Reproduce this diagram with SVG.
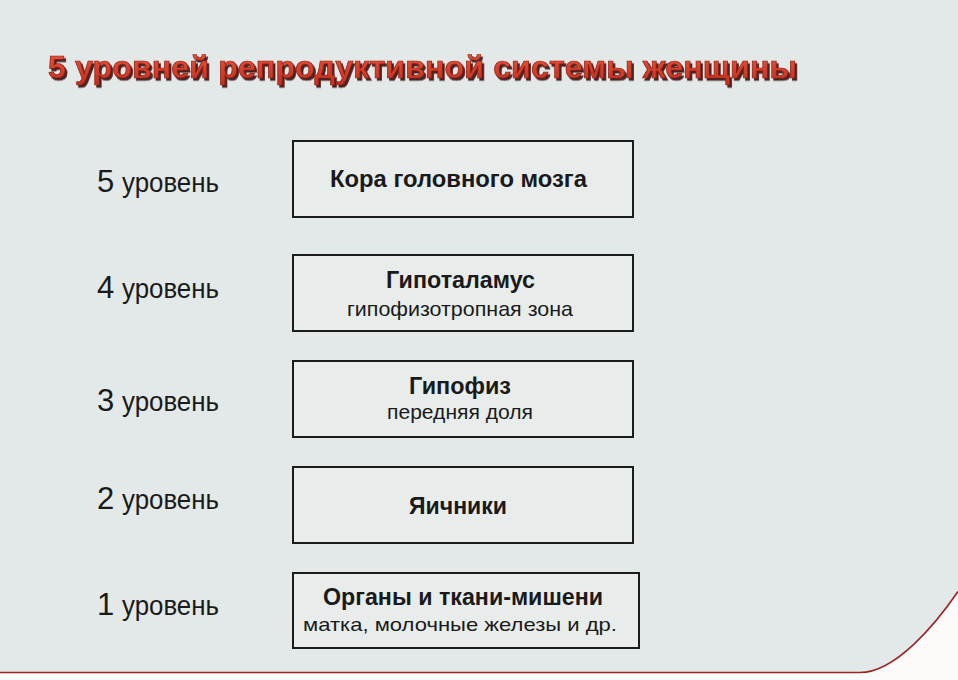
<svg xmlns="http://www.w3.org/2000/svg" width="958" height="680" viewBox="0 0 958 680">
<defs>
<filter id="shadow" x="-5%" y="-30%" width="110%" height="160%">
<feDropShadow dx="2" dy="2.5" stdDeviation="0.7" flood-color="#3a0808" flood-opacity="0.9"/>
</filter>
<linearGradient id="titleGrad" x1="0" y1="0" x2="0" y2="1">
<stop offset="0" stop-color="#ea573d"/>
<stop offset="1" stop-color="#c42e1e"/>
</linearGradient>
</defs>
<style>
.box{fill:#e8edec;stroke:#1c1c1c;stroke-width:2}
.main{font-family:"Liberation Sans",Arial,sans-serif;font-weight:bold;font-size:24px;fill:#1a1a1a}
.sub{font-family:"Liberation Sans",Arial,sans-serif;font-size:21px;fill:#1a1a1a}
.num{font-family:"Liberation Sans",Arial,sans-serif;font-size:31px;fill:#1a1a1a}
.lvl{font-family:"Liberation Sans",Arial,sans-serif;font-size:27px;fill:#1a1a1a}
.title{font-family:"Liberation Sans",Arial,sans-serif;font-weight:bold;font-size:31px;fill:url(#titleGrad);stroke:#8a1c10;stroke-width:0.7}
</style>
<rect x="0" y="0" width="958" height="680" fill="#e3e9e8"/>
<path d="M0,673 H860 C895,673 935,625 958,592 V680 H0 Z" fill="#fdfafa"/>
<path d="M0,672.5 H860 C895,672.5 935,625 958,591.5" fill="none" stroke="#9a2424" stroke-width="1.6"/>
<text class="title" x="48" y="78" textLength="749" lengthAdjust="spacingAndGlyphs" filter="url(#shadow)">5 уровней репродуктивной системы женщины</text>
<g id="labels">
<text x="97" y="192"><tspan class="num">5</tspan></text>
<text class="lvl" x="122" y="192" textLength="97" lengthAdjust="spacingAndGlyphs">уровень</text>
<text x="97" y="298"><tspan class="num">4</tspan></text>
<text class="lvl" x="122" y="298" textLength="97" lengthAdjust="spacingAndGlyphs">уровень</text>
<text x="97" y="411"><tspan class="num">3</tspan></text>
<text class="lvl" x="122" y="411" textLength="97" lengthAdjust="spacingAndGlyphs">уровень</text>
<text x="97" y="509"><tspan class="num">2</tspan></text>
<text class="lvl" x="122" y="509" textLength="97" lengthAdjust="spacingAndGlyphs">уровень</text>
<text x="97" y="615"><tspan class="num">1</tspan></text>
<text class="lvl" x="122" y="615" textLength="97" lengthAdjust="spacingAndGlyphs">уровень</text>
</g>
<g id="connectors"></g>
<g id="node-cortex">
<rect class="box" x="293" y="141" width="340" height="76"/>
<text class="main" x="330" y="187" textLength="257" lengthAdjust="spacingAndGlyphs">Кора головного мозга</text>
</g>
<g id="node-hypothalamus">
<rect class="box" x="293" y="255" width="340" height="76"/>
<text class="main" x="386" y="288" textLength="149" lengthAdjust="spacingAndGlyphs">Гипоталамус</text>
<text class="sub" x="347" y="316" textLength="226" lengthAdjust="spacingAndGlyphs">гипофизотропная зона</text>
</g>
<g id="node-pituitary">
<rect class="box" x="293" y="361" width="340" height="76"/>
<text class="main" x="409" y="394" textLength="102" lengthAdjust="spacingAndGlyphs">Гипофиз</text>
<text class="sub" x="387" y="419" textLength="146" lengthAdjust="spacingAndGlyphs">передняя доля</text>
</g>
<g id="node-ovaries">
<rect class="box" x="293" y="467" width="340" height="76"/>
<text class="main" x="409" y="514" textLength="98" lengthAdjust="spacingAndGlyphs">Яичники</text>
</g>
<g id="node-targets">
<rect class="box" x="293" y="573" width="346" height="75"/>
<text class="main" x="323" y="605" textLength="280" lengthAdjust="spacingAndGlyphs">Органы и ткани-мишени</text>
<text class="sub" x="303" y="631" textLength="314" lengthAdjust="spacingAndGlyphs" style="font-size:19px">матка, молочные железы и др.</text>
</g>
</svg>
